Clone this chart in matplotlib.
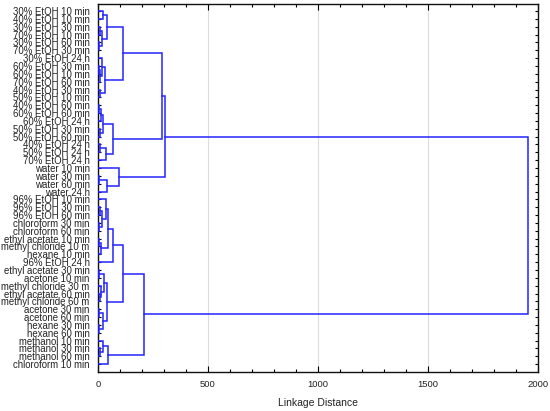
import matplotlib
matplotlib.use("Agg")
import matplotlib.pyplot as plt
from matplotlib.ticker import MultipleLocator

plt.rcParams['font.family'] = ['Liberation Sans', 'DejaVu Sans']

# leaf labels, top to bottom
leaves = [
    "30% EtOH 10 min", "40% EtOH 10 min", "30% EtOH 30 min", "70% EtOH 10 min",
    "30% EtOH 60 min", "70% EtOH 30 min", "30% EtOH 24 h", "60% EtOH 30 min",
    "60% EtOH 10 min", "70% EtOH 60 min", "40% EtOH 30 min", "50% EtOH 10 min",
    "40% EtOH 60 min", "60% EtOH 60 min", "60% EtOH 24 h", "50% EtOH 30 min",
    "50% EtOH 60 min", "40% EtOH 24 h", "50% EtOH 24 h", "70% EtOH 24 h",
    "water 10 min", "water 30 min", "water 60 min", "water 24 h",
    "96% EtOH 10 min", "96% EtOH 30 min", "96% EtOH 60 min", "chloroform 30 min",
    "chloroform 60 min", "ethyl acetate 10 min", "methyl chloride 10 m", "hexane 10 min",
    "96% EtOH 24 h", "ethyl acetate 30 min", "acetone 10 min", "methyl chloride 30 m",
    "ethyl acetate 60 min", "methyl chloride 60 m", "acetone 30 min", "acetone 60 min",
    "hexane 30 min", "hexane 60 min", "methanol 10 min", "methanol 30 min",
    "methanol 60 min", "chloroform 10 min",
]

# merges: (left id, right id, linkage distance); ids >= len(leaves) are earlier merges
merge_left = [0, 2, 4, 47, 46, 7, 51, 6, 10, 53, 50, 12, 57, 15, 58, 17, 61, 60, 56,
              21, 65, 20, 64,
              25, 27, 69, 24, 29, 73, 72, 75, 33, 36, 35, 77, 38, 40, 81, 80, 76,
              43, 42, 87, 85, 68]
merge_right = [1, 3, 5, 48, 49, 8, 9, 52, 11, 54, 55, 13, 14, 16, 59, 18, 19, 62, 63,
               22, 23, 66, 67,
               26, 28, 70, 71, 30, 31, 74, 32, 34, 37, 78, 79, 39, 41, 82, 83, 84,
               44, 86, 45, 88, 89]
merge_dist = [22, 10, 5, 18, 41, 4, 8, 18, 10, 32, 114, 6, 12, 8, 23, 10, 36, 66, 291,
              5, 40, 95, 305,
              8, 6, 18, 35, 5, 15, 45, 68, 6, 8, 15, 25, 6, 6, 22, 41, 114,
              8, 23, 45, 209, 1955]

n = len(leaves)
pos_y = list(range(n))
pos_x = [0.0] * n

fig = plt.figure(figsize=(5.5, 4.11), dpi=100)
ax = fig.add_axes([0.1782, 0.0949, 0.8, 0.8954])

line_color = '#2424ff'
for a, b, d in zip(merge_left, merge_right, merge_dist):
    ax.plot([pos_x[a], d, d, pos_x[b]], [pos_y[a], pos_y[a], pos_y[b], pos_y[b]],
            color=line_color, lw=1.1, solid_joinstyle='miter', zorder=3)
    pos_x.append(d)
    pos_y.append((pos_y[a] + pos_y[b]) / 2.0)

ax.set_xlim(0, 2000)
ax.set_ylim(n, -0.9)
ax.xaxis.set_major_locator(MultipleLocator(500))
ax.xaxis.set_minor_locator(MultipleLocator(100))
ax.set_yticks(range(n))
ax.set_yticklabels(leaves)
ax.grid(axis='x', which='major', color='#dcdcdc', lw=0.8, zorder=0)

ax.tick_params(axis='x', which='major', direction='in', length=4, width=0.8,
               top=True, labelsize=6.8, labelcolor='#222222', pad=6)
ax.tick_params(axis='x', which='minor', direction='in', length=2, width=0.8, top=True)
ax.tick_params(axis='y', direction='in', length=2.5, width=0.8, right=True,
               labelsize=6.9, labelcolor='#222222', pad=6)
for sp in ax.spines.values():
    sp.set_linewidth(1.0)
    sp.set_color('#111111')

ax.set_xlabel("Linkage Distance", fontsize=7.5, color='#222222', labelpad=6)

fig.savefig("out.png", dpi=100)
